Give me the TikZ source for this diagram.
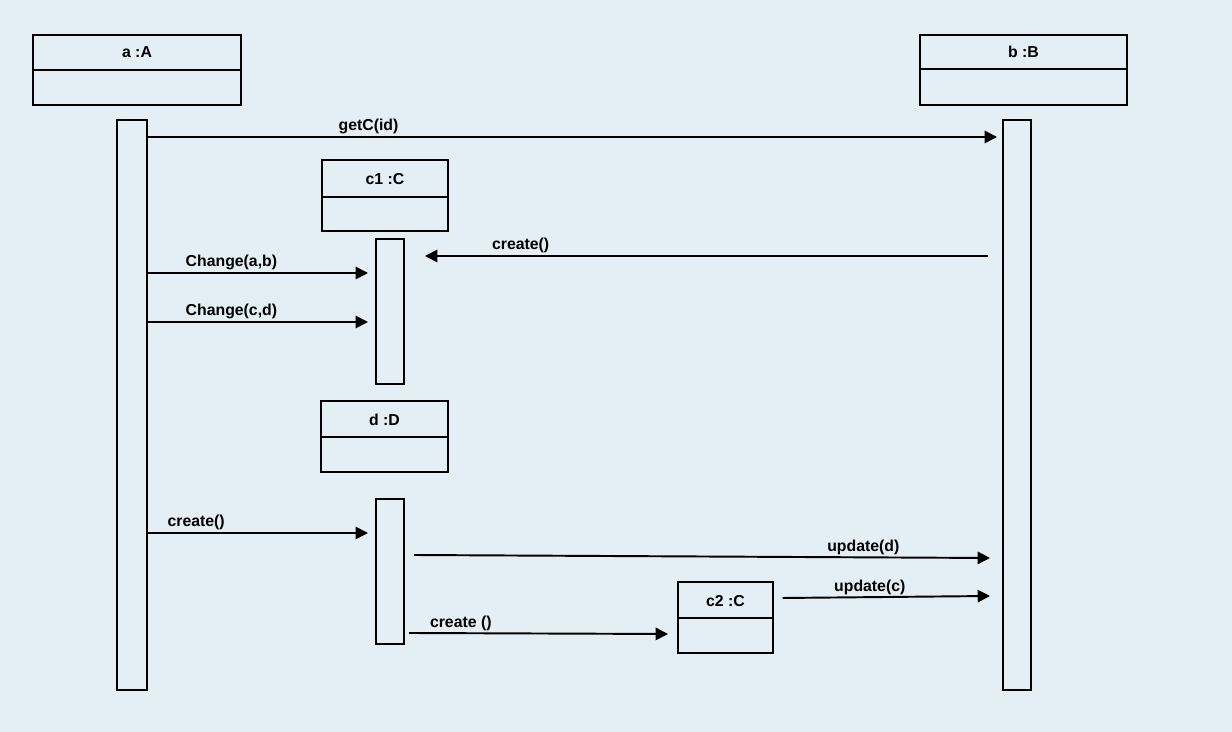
\documentclass[tikz,border=0pt]{standalone}
\usepackage{fontspec}
\setmainfont{Liberation Sans}
\usetikzlibrary{arrows.meta}
\definecolor{bgblue}{HTML}{E3EEF5}
\begin{document}
\begin{tikzpicture}[x=0.02cm,y=-0.02cm,
    obj/.style={draw, thick, minimum height=1.4cm, inner sep=0pt},
    bar/.style={draw, thick, inner sep=0pt, minimum width=0.56cm},
    msg/.style={-{Triangle[length=7pt,width=7pt]}, line width=1.1pt},
    lbl/.style={font=\fontsize{9}{10}\selectfont\bfseries, inner sep=1pt}]

% Hintergrund
\fill[bgblue] (0,0) rectangle (1232,732);

% Objekte (Kopfboxen)
\node[obj, minimum width=4.16cm] (objA) at (137,70) {};
\node[lbl] at (137,52) {a :A};
\draw[thick] (33,70) -- (241,70);
\node[obj, minimum width=4.14cm] (objB) at (1023.5,70) {};
\node[lbl] at (1023.5,52) {b :B};
\draw[thick] (920,69) -- (1127,69);
\node[obj, minimum width=2.52cm, minimum height=1.42cm] (objC1) at (385,195.5) {};
\node[lbl] at (385,179) {c1 :C};
\draw[thick] (322,197) -- (448,197);
\node[obj, minimum width=2.54cm, minimum height=1.42cm] (objD) at (384.5,436.5) {};
\node[lbl] at (384.5,420) {d :D};
\draw[thick] (321,437) -- (448,437);
\node[obj, minimum width=1.9cm, minimum height=1.42cm] (objC2) at (725.5,617.5) {};
\node[lbl] at (725.5,601) {c2 :C};
\draw[thick] (678,618) -- (773,618);

% Aktivierungsbalken
\node[bar, minimum width=0.6cm, minimum height=11.4cm] (barA) at (132,405) {};
\node[bar, minimum height=11.4cm] (barB) at (1017,405) {};
\node[bar, minimum height=2.9cm] (barC1) at (390,311.5) {};
\node[bar, minimum height=2.9cm] (barD) at (390,571.5) {};

% Nachrichten
\coordinate (getcEnd) at (997,137);
\draw[msg] (barA.east |- getcEnd) -- node[lbl, above, pos=0.26] {getC(id)} (getcEnd);
\coordinate (createEnd) at (425,256);
\draw[msg] (988,256) coordinate (createStart) -- node[lbl, above, pos=0.83] {create()} (createEnd);
\coordinate (chgAB) at (368,273);
\draw[msg] (barA.east |- chgAB) -- node[lbl, above, pos=0.38] {Change(a,b)} (chgAB);
\coordinate (chgCD) at (368,322);
\draw[msg] (barA.east |- chgCD) -- node[lbl, above, pos=0.38] {Change(c,d)} (chgCD);
\coordinate (createD) at (368,533);
\draw[msg] (barA.east |- createD) -- node[lbl, above, pos=0.22] {create()} (createD);
\coordinate (updD) at (990,558);
\draw[msg] (414,555) -- node[lbl, above, pos=0.78] {update(d)} (updD);
\coordinate (createC2) at (668,634);
\draw[msg] (409,633) -- node[lbl, above, pos=0.2] {create ()} (createC2);
\coordinate (updC) at (990,596);
\draw[msg] (objC2.east |- 0,598) ++(9,0) -- node[lbl, above, pos=0.42] {update(c)} (updC);

\end{tikzpicture}
\end{document}
